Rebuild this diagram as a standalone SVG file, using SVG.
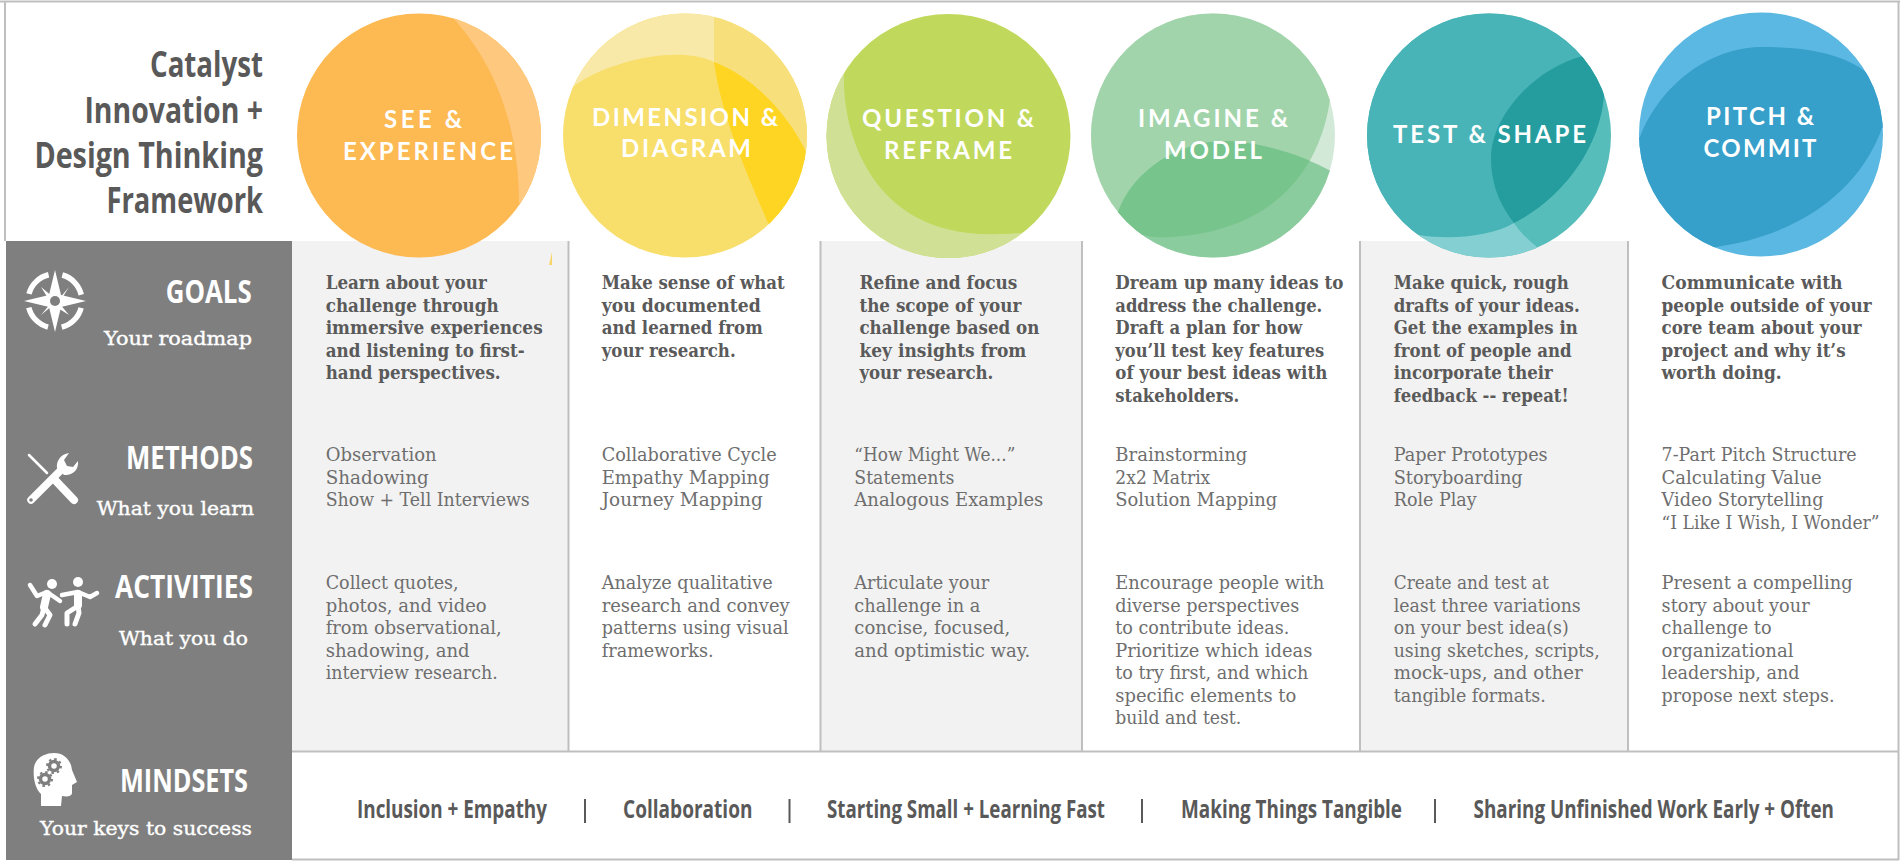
<svg xmlns="http://www.w3.org/2000/svg" width="1900" height="862" viewBox="0 0 1900 862">
<style>
text{white-space:pre}
.t{font-family:"Open Sans","Noto Sans",sans-serif;font-weight:700;font-size:36px;fill:#595959}
.h{font-family:"Open Sans","Noto Sans",sans-serif;font-weight:700;font-size:33px;fill:#fff}
.s{font-family:"DejaVu Serif",serif;font-size:18.5px;fill:#fff;stroke:#fff;stroke-width:.35px}
.c{font-family:Lato,"Open Sans",sans-serif;font-weight:700;font-size:24px;fill:#fff}
.g{font-family:"DejaVu Serif",serif;font-weight:700;font-size:18.5px;fill:#5a5a5a}
.b{font-family:"DejaVu Serif",serif;font-size:18.5px;fill:#6e6e6e}
.m{font-family:"Open Sans","Noto Sans",sans-serif;font-weight:700;font-size:25px;fill:#595959}
.d{stroke:#bfbfbf;stroke-width:2;fill:none}
.w{fill:#fff}
.ws{stroke:#fff;fill:none;stroke-linecap:round;stroke-linejoin:round}
</style>
<defs>
<clipPath id="c1"><circle cx="419" cy="135.5" r="122"/></clipPath>
<clipPath id="c2"><circle cx="685" cy="135.5" r="122"/></clipPath>
<clipPath id="c3"><circle cx="948.5" cy="136" r="122"/></clipPath>
<clipPath id="c4"><circle cx="1213" cy="135.5" r="122"/></clipPath>
<clipPath id="c5"><circle cx="1489" cy="135.5" r="122"/></clipPath>
<clipPath id="c6"><circle cx="1761" cy="134.5" r="122"/></clipPath>
<clipPath id="b4"><path d="M1331,90C1326,150 1290,230 1172,237C1160,238 1150,237 1144,235L1050,235L1050,0L1331,0Z"/></clipPath>
<clipPath id="a5"><path d="M1604,95C1600,150 1560,200 1514,223C1490,237 1450,240 1418,235L1340,235L1340,0L1604,0Z"/></clipPath>
</defs>
<rect width="1900" height="862" fill="#fff"/>
<g id="frame">
<rect x="292" y="241" width="276" height="510" fill="#f2f2f2"/>
<rect x="821" y="241" width="261" height="510" fill="#f2f2f2"/>
<rect x="1360" y="241" width="268" height="510" fill="#f2f2f2"/>
<rect x="6" y="241" width="286" height="619" fill="#7f7f7f"/>
<path class="d" d="M0,1.5H1900M5,1V241M1898.5,1V860M292,859.5H1899M292,751.5H1899M568.500,241V751M820.500,241V751M1082,241V751M1360,241V751M1628,241V751"/>
<polygon points="552,252 552,265 549,265" fill="#f8d568"/>
</g>
<g id="title">
<text class="t" x="150" y="77" textLength="113" lengthAdjust="spacingAndGlyphs">Catalyst</text>
<text class="t" x="84.400" y="123" textLength="178.600" lengthAdjust="spacingAndGlyphs">Innovation +</text>
<text class="t" x="34.400" y="168" textLength="228.600" lengthAdjust="spacingAndGlyphs">Design Thinking</text>
<text class="t" x="106.400" y="213" textLength="156.600" lengthAdjust="spacingAndGlyphs">Framework</text>
</g>
<g id="circle-see">
<g clip-path="url(#c1)"><rect x="290" y="10" width="260" height="250" fill="#fdb952"/>
<path d="M454,19C495,65 519,125 519,203L560,203L560,10L454,10Z" fill="#fec97f"/></g>
<text class="c" x="384" y="128" textLength="78" lengthAdjust="spacing">SEE &amp;</text>
<text class="c" x="343" y="160" textLength="170" lengthAdjust="spacing">EXPERIENCE</text>
</g>
<g id="circle-dimension">
<g clip-path="url(#c2)"><rect x="560" y="10" width="250" height="250" fill="#f8de6b"/>
<path d="M574,86C610,60 680,45 714,62L714,0L560,0L560,86Z" fill="#f8e9a9"/>
<path d="M714,0V62C755,78 790,115 810,160V0Z" fill="#f7e07c"/>
<path d="M714,62C755,78 790,115 810,160V260H800L768,223C750,180 722,120 714,62Z" fill="#fed522"/></g>
<text class="c" x="592" y="126" textLength="186" lengthAdjust="spacing">DIMENSION &amp;</text>
<text class="c" x="621" y="157" textLength="130" lengthAdjust="spacing">DIAGRAM</text>
</g>
<g id="circle-question">
<g clip-path="url(#c3)"><rect x="820" y="10" width="260" height="250" fill="#c0d95c"/>
<path d="M844,74C842,130 870,240 1000,234C1010,234 1018,234 1025,232L1025,280L800,280L800,74Z" fill="#d0e196"/></g>
<text class="c" x="862" y="127" textLength="172" lengthAdjust="spacing">QUESTION &amp;</text>
<text class="c" x="884" y="159" textLength="128" lengthAdjust="spacing">REFRAME</text>
</g>
<g id="circle-imagine">
<g clip-path="url(#c4)"><rect x="1085" y="10" width="260" height="250" fill="#d3e9d7"/>
<path d="M1331,90C1326,150 1290,230 1172,237C1160,238 1150,237 1144,235L1050,235L1050,0L1331,0Z" fill="#a2d4ab"/>
<path d="M1118,212C1135,165 1190,135 1240,142C1280,147 1310,160 1331,171L1400,171L1400,280L1100,280Z" fill="#8bcc9e"/>
<g clip-path="url(#b4)"><path d="M1118,212C1135,165 1190,135 1240,142C1280,147 1310,160 1331,171L1400,171L1400,280L1100,280Z" fill="#77c48d"/></g></g>
<text class="c" x="1138" y="127" textLength="150" lengthAdjust="spacing">IMAGINE &amp;</text>
<text class="c" x="1164" y="159" textLength="98" lengthAdjust="spacing">MODEL</text>
</g>
<g id="circle-test">
<g clip-path="url(#c5)"><rect x="1360" y="10" width="260" height="250" fill="#56bdba"/>
<path d="M1604,95C1600,150 1560,200 1514,223C1490,237 1450,240 1418,235L1340,235L1340,0L1604,0Z" fill="#48b4b7"/>
<g clip-path="url(#a5)"><path d="M1583,56C1530,70 1491,120 1491,157C1491,185 1500,205 1514,223L1700,223L1700,56Z" fill="#259d9e"/></g>
<path d="M1418,235C1450,240 1490,237 1514,223C1520,232 1528,240 1537,247L1537,280L1400,280Z" fill="#83cfd1"/></g>
<text class="c" x="1393" y="143" textLength="193" lengthAdjust="spacing">TEST &amp; SHAPE</text>
</g>
<g id="circle-pitch">
<g clip-path="url(#c6)"><rect x="1630" y="5" width="260" height="255" fill="#5bb8e2"/>
<path d="M1640,137C1660,85 1710,47 1762,47C1810,47 1845,55 1867,73L1950,73L1950,128L1882,128C1860,190 1800,235 1716,247L1600,247L1600,137Z" fill="#369fca"/></g>
<text class="c" x="1706" y="125" textLength="108" lengthAdjust="spacing">PITCH &amp;</text>
<text class="c" x="1703.500" y="157" textLength="113" lengthAdjust="spacing">COMMIT</text>
</g>
<g id="row-goals">
<g id="icon-compass">
<circle cx="55" cy="301" r="27" fill="none" stroke="#fff" stroke-width="5.500" stroke-dasharray="28.400 14" stroke-dashoffset="-7"/>
<polygon class="w" points="55,270 61,295 86,301 61,307 55,332 49,307 24,301 49,295"/>
<polygon class="w" points="41,287 53,297 59,299 69,287 59,303 69,315 53,305 41,315 51,303"/>
<circle cx="55" cy="301" r="5" fill="#7f7f7f"/>
</g>
<text class="h" x="165.700" y="303" textLength="86" lengthAdjust="spacingAndGlyphs">GOALS</text>
<text class="s" x="104" y="345" textLength="148" lengthAdjust="spacingAndGlyphs">Your roadmap</text>
<text class="g" x="325.700" y="289" textLength="161" lengthAdjust="spacingAndGlyphs">Learn about your</text>
<text class="g" x="325.700" y="311.500" textLength="173" lengthAdjust="spacingAndGlyphs">challenge through</text>
<text class="g" x="325.700" y="334" textLength="217" lengthAdjust="spacingAndGlyphs">immersive experiences</text>
<text class="g" x="325.700" y="356.500" textLength="199" lengthAdjust="spacingAndGlyphs">and listening to first-</text>
<text class="g" x="325.700" y="379" textLength="175" lengthAdjust="spacingAndGlyphs">hand perspectives.</text>
<text class="g" x="601.700" y="289" textLength="183" lengthAdjust="spacingAndGlyphs">Make sense of what</text>
<text class="g" x="601.700" y="311.500" textLength="159" lengthAdjust="spacingAndGlyphs">you documented</text>
<text class="g" x="601.700" y="334" textLength="161" lengthAdjust="spacingAndGlyphs">and learned from</text>
<text class="g" x="601.700" y="356.500" textLength="134" lengthAdjust="spacingAndGlyphs">your research.</text>
<text class="g" x="859.400" y="289" textLength="158" lengthAdjust="spacingAndGlyphs">Refine and focus</text>
<text class="g" x="859.400" y="311.500" textLength="162" lengthAdjust="spacingAndGlyphs">the scope of your</text>
<text class="g" x="859.400" y="334" textLength="180" lengthAdjust="spacingAndGlyphs">challenge based on</text>
<text class="g" x="859.400" y="356.500" textLength="167" lengthAdjust="spacingAndGlyphs">key insights from</text>
<text class="g" x="859.400" y="379" textLength="134" lengthAdjust="spacingAndGlyphs">your research.</text>
<text class="g" x="1115.300" y="289" textLength="228" lengthAdjust="spacingAndGlyphs">Dream up many ideas to</text>
<text class="g" x="1115.300" y="311.500" textLength="207" lengthAdjust="spacingAndGlyphs">address the challenge.</text>
<text class="g" x="1115.300" y="334" textLength="187" lengthAdjust="spacingAndGlyphs">Draft a plan for how</text>
<text class="g" x="1115.300" y="356.500" textLength="209" lengthAdjust="spacingAndGlyphs">you’ll test key features</text>
<text class="g" x="1115.300" y="379" textLength="212" lengthAdjust="spacingAndGlyphs">of your best ideas with</text>
<text class="g" x="1115.300" y="401.500" textLength="124" lengthAdjust="spacingAndGlyphs">stakeholders.</text>
<text class="g" x="1393.700" y="289" textLength="175" lengthAdjust="spacingAndGlyphs">Make quick, rough</text>
<text class="g" x="1393.700" y="311.500" textLength="186" lengthAdjust="spacingAndGlyphs">drafts of your ideas.</text>
<text class="g" x="1393.700" y="334" textLength="184" lengthAdjust="spacingAndGlyphs">Get the examples in</text>
<text class="g" x="1393.700" y="356.500" textLength="178" lengthAdjust="spacingAndGlyphs">front of people and</text>
<text class="g" x="1393.700" y="379" textLength="159" lengthAdjust="spacingAndGlyphs">incorporate their</text>
<text class="g" x="1393.700" y="401.500" textLength="175" lengthAdjust="spacingAndGlyphs">feedback -- repeat!</text>
<text class="g" x="1661.600" y="289" textLength="181" lengthAdjust="spacingAndGlyphs">Communicate with</text>
<text class="g" x="1661.600" y="311.500" textLength="210" lengthAdjust="spacingAndGlyphs">people outside of your</text>
<text class="g" x="1661.600" y="334" textLength="200" lengthAdjust="spacingAndGlyphs">core team about your</text>
<text class="g" x="1661.600" y="356.500" textLength="184" lengthAdjust="spacingAndGlyphs">project and why it’s</text>
<text class="g" x="1661.600" y="379" textLength="120" lengthAdjust="spacingAndGlyphs">worth doing.</text>
</g>
<g id="row-methods">
<g id="icon-tools">
<path class="ws" stroke-width="2.500" d="M29,455L47,473"/>
<path class="ws" stroke-width="8" d="M55,480L74,500"/>
<path class="ws" stroke-width="7.500" d="M31,500L63,468"/>
<path class="w" d="M57,468C56,461 61,454 69,453L64,460L67,466L73,467L78,461C79,470 72,476 64,475Z"/>
<circle cx="31" cy="500" r="1.800" fill="#7f7f7f"/>
</g>
<text class="h" x="126" y="469" textLength="127" lengthAdjust="spacingAndGlyphs">METHODS</text>
<text class="s" x="96.700" y="515" textLength="157.300" lengthAdjust="spacingAndGlyphs">What you learn</text>
<text class="b" x="325.700" y="461" textLength="111" lengthAdjust="spacingAndGlyphs">Observation</text>
<text class="b" x="325.700" y="484" textLength="103" lengthAdjust="spacingAndGlyphs">Shadowing</text>
<text class="b" x="325.700" y="506" textLength="204" lengthAdjust="spacingAndGlyphs">Show + Tell Interviews</text>
<text class="b" x="601.700" y="461" textLength="175" lengthAdjust="spacingAndGlyphs">Collaborative Cycle</text>
<text class="b" x="601.700" y="484" textLength="168" lengthAdjust="spacingAndGlyphs">Empathy Mapping</text>
<text class="b" x="601.700" y="506" textLength="161" lengthAdjust="spacingAndGlyphs">Journey Mapping</text>
<text class="b" x="854.300" y="461" textLength="161" lengthAdjust="spacingAndGlyphs">“How Might We...”</text>
<text class="b" x="854.300" y="484" textLength="100" lengthAdjust="spacingAndGlyphs">Statements</text>
<text class="b" x="854.300" y="506" textLength="189" lengthAdjust="spacingAndGlyphs">Analogous Examples</text>
<text class="b" x="1115.300" y="461" textLength="132" lengthAdjust="spacingAndGlyphs">Brainstorming</text>
<text class="b" x="1115.300" y="484" textLength="95" lengthAdjust="spacingAndGlyphs">2x2 Matrix</text>
<text class="b" x="1115.300" y="506" textLength="162" lengthAdjust="spacingAndGlyphs">Solution Mapping</text>
<text class="b" x="1393.700" y="461" textLength="154" lengthAdjust="spacingAndGlyphs">Paper Prototypes</text>
<text class="b" x="1393.700" y="484" textLength="129" lengthAdjust="spacingAndGlyphs">Storyboarding</text>
<text class="b" x="1393.700" y="506" textLength="83" lengthAdjust="spacingAndGlyphs">Role Play</text>
<text class="b" x="1661.600" y="461" textLength="195" lengthAdjust="spacingAndGlyphs">7-Part Pitch Structure</text>
<text class="b" x="1661.600" y="484" textLength="160" lengthAdjust="spacingAndGlyphs">Calculating Value</text>
<text class="b" x="1661.600" y="506" textLength="162" lengthAdjust="spacingAndGlyphs">Video Storytelling</text>
<text class="b" x="1661.600" y="529" textLength="218" lengthAdjust="spacingAndGlyphs">“I Like I Wish, I Wonder”</text>
</g>
<g id="row-activities">
<g id="icon-dancers">
<circle class="w" cx="52" cy="584" r="5"/>
<circle class="w" cx="78" cy="582" r="5"/>
<path class="ws" stroke-width="4.500" d="M30,585L37,596L47,592L60,601"/>
<path class="ws" stroke-width="8" d="M47,594L44,607"/>
<path class="ws" stroke-width="5" d="M44,607L42,615L35,624M44,607L50,615L45,625"/>
<path class="ws" stroke-width="4.500" d="M62,595L78,592L90,597L97,593"/>
<path class="ws" stroke-width="8" d="M78,594L78,605"/>
<path class="ws" stroke-width="5" d="M78,606L67,613L67,624M78,606L79,613L75,624"/>
</g>
<text class="h" x="115" y="598" textLength="138" lengthAdjust="spacingAndGlyphs">ACTIVITIES</text>
<text class="s" x="119" y="645" textLength="129" lengthAdjust="spacingAndGlyphs">What you do</text>
<text class="b" x="325.700" y="589" textLength="133" lengthAdjust="spacingAndGlyphs">Collect quotes,</text>
<text class="b" x="325.700" y="612" textLength="161" lengthAdjust="spacingAndGlyphs">photos, and video</text>
<text class="b" x="325.700" y="634" textLength="176" lengthAdjust="spacingAndGlyphs">from observational,</text>
<text class="b" x="325.700" y="657" textLength="144" lengthAdjust="spacingAndGlyphs">shadowing, and</text>
<text class="b" x="325.700" y="679" textLength="172" lengthAdjust="spacingAndGlyphs">interview research.</text>
<text class="b" x="601.700" y="589" textLength="171" lengthAdjust="spacingAndGlyphs">Analyze qualitative</text>
<text class="b" x="601.700" y="612" textLength="188" lengthAdjust="spacingAndGlyphs">research and convey</text>
<text class="b" x="601.700" y="634" textLength="187" lengthAdjust="spacingAndGlyphs">patterns using visual</text>
<text class="b" x="601.700" y="657" textLength="112" lengthAdjust="spacingAndGlyphs">frameworks.</text>
<text class="b" x="854.300" y="589" textLength="135" lengthAdjust="spacingAndGlyphs">Articulate your</text>
<text class="b" x="854.300" y="612" textLength="126" lengthAdjust="spacingAndGlyphs">challenge in a</text>
<text class="b" x="854.300" y="634" textLength="156" lengthAdjust="spacingAndGlyphs">concise, focused,</text>
<text class="b" x="854.300" y="657" textLength="176" lengthAdjust="spacingAndGlyphs">and optimistic way.</text>
<text class="b" x="1115.300" y="589" textLength="209" lengthAdjust="spacingAndGlyphs">Encourage people with</text>
<text class="b" x="1115.300" y="612" textLength="184" lengthAdjust="spacingAndGlyphs">diverse perspectives</text>
<text class="b" x="1115.300" y="634" textLength="174" lengthAdjust="spacingAndGlyphs">to contribute ideas.</text>
<text class="b" x="1115.300" y="657" textLength="197" lengthAdjust="spacingAndGlyphs">Prioritize which ideas</text>
<text class="b" x="1115.300" y="679" textLength="193" lengthAdjust="spacingAndGlyphs">to try first, and which</text>
<text class="b" x="1115.300" y="702" textLength="181" lengthAdjust="spacingAndGlyphs">specific elements to</text>
<text class="b" x="1115.300" y="724" textLength="126" lengthAdjust="spacingAndGlyphs">build and test.</text>
<text class="b" x="1393.700" y="589" textLength="155" lengthAdjust="spacingAndGlyphs">Create and test at</text>
<text class="b" x="1393.700" y="612" textLength="187" lengthAdjust="spacingAndGlyphs">least three variations</text>
<text class="b" x="1393.700" y="634" textLength="175" lengthAdjust="spacingAndGlyphs">on your best idea(s)</text>
<text class="b" x="1393.700" y="657" textLength="206" lengthAdjust="spacingAndGlyphs">using sketches, scripts,</text>
<text class="b" x="1393.700" y="679" textLength="189" lengthAdjust="spacingAndGlyphs">mock-ups, and other</text>
<text class="b" x="1393.700" y="702" textLength="152" lengthAdjust="spacingAndGlyphs">tangible formats.</text>
<text class="b" x="1661.600" y="589" textLength="191" lengthAdjust="spacingAndGlyphs">Present a compelling</text>
<text class="b" x="1661.600" y="612" textLength="148" lengthAdjust="spacingAndGlyphs">story about your</text>
<text class="b" x="1661.600" y="634" textLength="110" lengthAdjust="spacingAndGlyphs">challenge to</text>
<text class="b" x="1661.600" y="657" textLength="132" lengthAdjust="spacingAndGlyphs">organizational</text>
<text class="b" x="1661.600" y="679" textLength="138" lengthAdjust="spacingAndGlyphs">leadership, and</text>
<text class="b" x="1661.600" y="702" textLength="173" lengthAdjust="spacingAndGlyphs">propose next steps.</text>
</g>
<g id="row-mindsets">
<g id="icon-head">
<path class="w" d="M41,806L41,794C34,787 33,775 34,767C36,757 46,753 54,753C65,753 71,761 72,770L77,782L72,785L72,793C72,796 68,797 62,796L61,806Z"/>
<circle cx="54" cy="766" r="4.500" fill="none" stroke="#7f7f7f" stroke-width="3.500"/>
<circle cx="45" cy="779" r="4.500" fill="none" stroke="#7f7f7f" stroke-width="3.500"/>
<circle cx="54" cy="766" r="7" fill="none" stroke="#7f7f7f" stroke-width="2" stroke-dasharray="2.500 3"/>
<circle cx="45" cy="779" r="7" fill="none" stroke="#7f7f7f" stroke-width="2" stroke-dasharray="2.500 3"/>
</g>
<text class="h" x="120" y="792" textLength="128" lengthAdjust="spacingAndGlyphs">MINDSETS</text>
<text class="s" x="40" y="835" textLength="212" lengthAdjust="spacingAndGlyphs">Your keys to success</text>
<text class="m" x="357" y="818" textLength="190" lengthAdjust="spacingAndGlyphs">Inclusion + Empathy</text>
<text class="m" x="623" y="818" textLength="129.500" lengthAdjust="spacingAndGlyphs">Collaboration</text>
<text class="m" x="827" y="818" textLength="278" lengthAdjust="spacingAndGlyphs">Starting Small + Learning Fast</text>
<text class="m" x="1181" y="818" textLength="221" lengthAdjust="spacingAndGlyphs">Making Things Tangible</text>
<text class="m" x="1473.600" y="818" textLength="360.400" lengthAdjust="spacingAndGlyphs">Sharing Unfinished Work Early + Often</text>
<path stroke="#595959" stroke-width="2" fill="none" d="M585,799V823M789.500,799V823M1142,799V823M1435,799V823"/>
</g>
</svg>
